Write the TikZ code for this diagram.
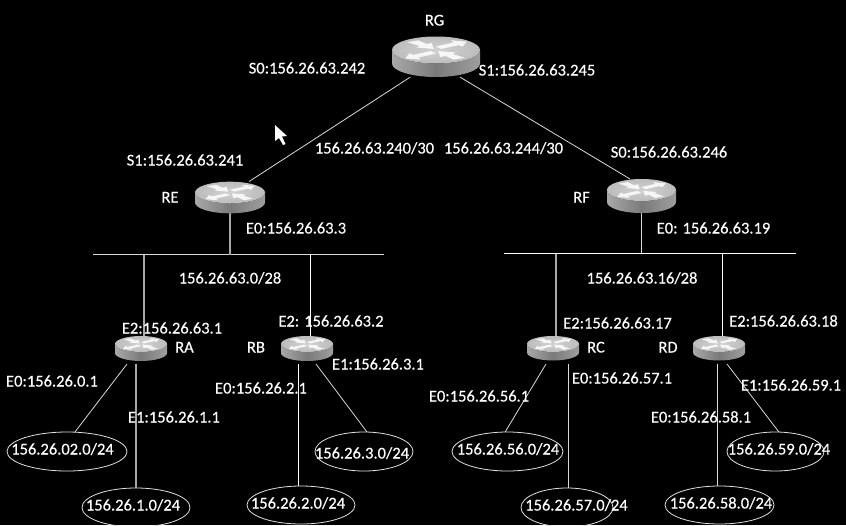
\documentclass[tikz,border=0pt]{standalone}
\usepackage{fontspec}
\setmainfont{Carlito}
\newfontfamily\lblfont[FakeBold=0.25]{Carlito}
\usetikzlibrary{shapes.geometric}
\definecolor{wirelight}{HTML}{DADADA}
\definecolor{wiregray}{HTML}{A8A8A8}
\newcommand{\routerart}[5]{% cx, cy of top ellipse, rx, ry, depth
  \begin{scope}[shift={(#1,#2)}]
    \shade[left color=black!34,right color=black!38,middle color=black!52]
      (-#3,0) -- (-#3,#5) arc[start angle=180,end angle=360,x radius=#3,y radius=-#4] -- (#3,0)
      arc[start angle=0,end angle=180,x radius=#3,y radius=#4] -- cycle;
    \shade[inner color=black!18,outer color=black!26] (0,0) ellipse[x radius=#3,y radius=#4];
    \begin{scope}[x=#3pt,y=-#4pt]
      \fill[routerarrow] (-.66,-.58) -- (-.40,-.72) -- (-.22,-.44) -- (-.10,-.52) -- (-.05,-.08) -- (-.44,-.18) -- (-.38,-.30) -- cycle;
      \fill[routerarrow] (.66,.58) -- (.40,.72) -- (.22,.44) -- (.10,.52) -- (.05,.08) -- (.44,.18) -- (.38,.30) -- cycle;
      \fill[routerarrow] (.70,-.62) -- (.34,-.72) -- (.40,-.56) -- (.00,-.26) -- (.12,-.08) -- (.52,-.36) -- (.60,-.24) -- cycle;
      \fill[routerarrow] (-.70,.62) -- (-.34,.72) -- (-.40,.56) -- (.00,.26) -- (-.12,.08) -- (-.52,.36) -- (-.60,.24) -- cycle;
    \end{scope}
  \end{scope}
}
\tikzset{
  routerarrow/.style={white,opacity=.85},
  routerport/.style={inner sep=0pt,outer sep=0pt,rectangle},
  busbar/.style={inner sep=0pt,outer sep=0pt,minimum height=0pt},
  subnet/.style={draw=white!88!black,line width=.8pt,ellipse,inner sep=0pt,outer sep=0pt},
  lbl/.style={text=white,inner sep=0pt,outer sep=0pt,text height=11pt,text depth=0pt,
    font=\lblfont\fontsize{16.5}{18}\selectfont},
  wire/.style={draw=wirelight,line width=.8pt},
  wirew/.style={draw=white,line width=.9pt},
  wireg/.style={draw=wiregray,line width=1.3pt}
}
\begin{document}
\begin{tikzpicture}[x=1pt,y=-1pt]
\useasboundingbox (0,0) rectangle (846,525);
\fill[black] (0,0) rectangle (846,525);
% router footprints
\node[routerport,minimum width=88pt,minimum height=40pt] (RG) at (436,57) {};
\node[routerport,minimum width=70pt,minimum height=32pt] (RE) at (230,197.5) {};
\node[routerport,minimum width=69pt,minimum height=34pt] (RF) at (641.5,196) {};
\node[routerport,minimum width=52pt,minimum height=31pt] (RA) at (141,348.5) {};
\node[routerport,minimum width=52pt,minimum height=31pt] (RB) at (307,348.5) {};
\node[routerport,minimum width=52pt,minimum height=31pt] (RC) at (553,348.5) {};
\node[routerport,minimum width=52pt,minimum height=31pt] (RD) at (719,348.5) {};
% buses
\node[busbar,minimum width=291pt] (busL) at (238.5,254.5) {};
\node[busbar,minimum width=292pt] (busR) at (650,253.5) {};
\draw[wire] (busL.west) -- (busL.east);
\draw[wirew] (busR.west) -- (busR.east);
% subnets
\node[subnet,minimum width=120pt,minimum height=39pt] (n02) at (67,451.5) {};
\node[subnet,minimum width=108pt,minimum height=39pt] (n1) at (136,507.5) {};
\node[subnet,minimum width=108pt,minimum height=38pt] (n2) at (301,505) {};
\node[subnet,minimum width=98pt,minimum height=39pt] (n3) at (364,451.5) {};
\node[subnet,minimum width=111pt,minimum height=39pt] (n56) at (507.5,451.5) {};
\node[subnet,minimum width=92pt,minimum height=39pt] (n57) at (567,507.5) {};
\node[subnet,minimum width=109pt,minimum height=38pt] (n58) at (719.5,505) {};
\node[subnet,minimum width=97pt,minimum height=39pt] (n59) at (775.5,451.5) {};
% connectors
\draw[wire] (RG.-142.4) -- (RE.40);
\draw[wire] (RG.-40) -- (RF.124);
\draw[wireg] (RE.center) -- (RE.center |- busL);
\draw[wire] (RF.center) -- (RF.center |- busR);
\draw[wireg] ([xshift=3pt]RA.center) -- ([xshift=3pt]RA.center |- busL);
\draw[wirew] ([xshift=3pt]RB.center) -- ([xshift=3pt]RB.center |- busL);
\draw[wireg] ([xshift=3pt]RC.center) -- ([xshift=3pt]RC.center |- busR);
\draw[wirew] ([xshift=3pt]RD.center) -- ([xshift=3pt]RD.center |- busR);
\draw[wire] ([xshift=-14pt]RA.south) -- (n02.68);
\draw[wireg] ([xshift=-5pt]RA.south) -- ([xshift=-5pt]RA.south |- n1.north);
\draw[wirew] ([xshift=-9pt]RB.south) -- ([xshift=-9pt]RB.south |- n2.north);
\draw[wire] ([xshift=9pt]RB.south) -- (n3.81);
\draw[wire] ([xshift=-7pt]RC.south) -- (n56.97);
\draw[wire] ([xshift=15pt]RC.south) -- ([xshift=15pt]RC.south |- n57.north);
\draw[wire] ([xshift=-2pt]RD.south) -- ([xshift=-2pt]RD.south |- n58.north);
\draw[wire] ([xshift=8pt]RD.south) -- (n59.80);
% router bodies
\routerart{436}{50}{44}{13.5}{13.5}
\routerart{230}{192.5}{35}{10.8}{10}
\routerart{641.5}{190}{34.5}{11}{12}
\routerart{141}{344}{26}{8}{9}
\routerart{307}{344}{26}{8}{9}
\routerart{553}{344}{26}{8}{8.5}
\routerart{719}{344}{26}{8}{8.5}
% labels
\node[lbl] (tRG) at (434.5,20) {RG};
\node[lbl] (tS0G) at (307,68) {S0:156.26.63.242};
\node[lbl] (tS1G) at (537,70) {S1:156.26.63.245};
\node[lbl] (tL240) at (374.5,148) {156.26.63.240/30};
\node[lbl] (tL244) at (503.5,148) {156.26.63.244/30};
\node[lbl] (tS1E) at (185,160) {S1:156.26.63.241};
\node[lbl] (tS0F) at (669,152) {S0:156.26.63.246};
\node[lbl] (tRE) at (170,197) {RE};
\node[lbl] (tRF) at (581.5,197) {RF};
\node[lbl] (tE0E) at (296,228) {E0:156.26.63.3};
\node[lbl] (tE0F) at (713.5,228) {E0: 156.26.63.19};
\node[lbl] (tNetL) at (230,278) {156.26.63.0/28};
\node[lbl] (tNetR) at (642,278) {156.26.63.16/28};
\node[lbl] (tE2A) at (172,328) {E2:156.26.63.1};
\node[lbl] (tRA) at (184.5,347) {RA};
\node[lbl] (tRB) at (256,347) {RB};
\node[lbl] (tE2B) at (331,321) {E2: 156.26.63.2};
\node[lbl] (tE1B) at (378,364) {E1:156.26.3.1};
\node[lbl] (tE0B) at (261,388) {E0:156.26.2.1};
\node[lbl] (tE0A) at (52,381) {E0:156.26.0.1};
\node[lbl] (tE1A) at (174,417) {E1:156.26.1.1};
\node[lbl] (tE2C) at (617.5,323) {E2:156.26.63.17};
\node[lbl] (tE2D) at (783.5,321) {E2:156.26.63.18};
\node[lbl] (tRC) at (596,347) {RC};
\node[lbl] (tRD) at (668,347) {RD};
\node[lbl] (tE0C2) at (622,378) {E0:156.26.57.1};
\node[lbl] (tE1D) at (791,385) {E1:156.26.59.1};
\node[lbl] (tE0D) at (701,417) {E0:156.26.58.1};
\node[lbl] (tE0C1) at (479,396) {E0:156.26.56.1};
\node[lbl] (tn02) at (62.5,449) {156.26.02.0/24};
\node[lbl] (tn1) at (133,505) {156.26.1.0/24};
\node[lbl] (tn2) at (298,503) {156.26.2.0/24};
\node[lbl] (tn3) at (362,453) {156.26.3.0/24};
\node[lbl] (tn56) at (508,449) {156.26.56.0/24};
\node[lbl] (tn57) at (576.5,505) {156.26.57.0/24};
\node[lbl] (tn58) at (721,503) {156.26.58.0/24};
\node[lbl] (tn59) at (779,449) {156.26.59.0/24};
% mouse pointer
\fill[white] (275,125) -- (275,141) -- (279,138) -- (283,145) -- (285.5,144) -- (282,136.5) -- (287,136) -- cycle;
\end{tikzpicture}
\end{document}
